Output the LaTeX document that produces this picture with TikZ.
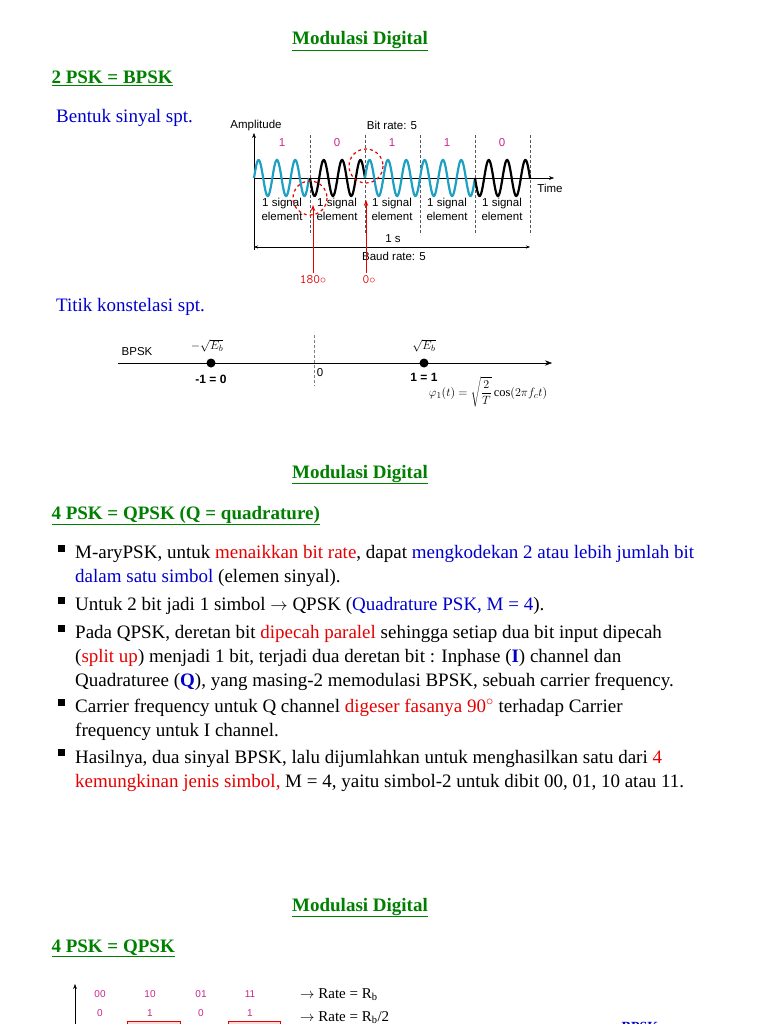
\documentclass[tikz,border=0pt]{standalone}
\usepackage{fontspec}
\setmainfont{Liberation Serif}
\newfontfamily\lsans{Liberation Sans}
\usetikzlibrary{arrows.meta}
\definecolor{tgreen}{RGB}{0,128,0}
\definecolor{tblue}{RGB}{0,0,204}
\definecolor{tred}{RGB}{230,0,0}
\definecolor{tcyan}{RGB}{30,160,195}
\definecolor{tpink}{RGB}{200,40,140}
\begin{document}
\begin{tikzpicture}[x=1pt,y=-1pt,
  head/.style={anchor=base,font=\fontsize{19}{21}\selectfont\bfseries,text=tgreen},
  sub/.style={anchor=base west,font=\fontsize{19}{21}\selectfont\bfseries,text=tgreen},
  body/.style={anchor=base west,font=\fontsize{19}{21}\selectfont,inner sep=0},
  small/.style={font=\lsans\fontsize{11.5}{13}\selectfont,inner sep=0}]
\useasboundingbox (0,0) rectangle (768,1024);
\fill[white] (0,0) rectangle (768,1024);
% headings
\node[head] (h1) at (360,45) {\underline{Modulasi Digital}};
\node[sub] (s1) at (48,84) {\underline{2 PSK = BPSK}};
\node[body,text=tblue] (b1) at (56,123) {Bentuk sinyal spt.};
\node[body,text=tblue] (b2) at (56,311) {Titik konstelasi spt.};
% signal figure
\draw[-{Stealth[length=5pt]}] (254,250) -- (254,133);
\draw[-{Stealth[length=5pt]}] (254,178) -- (554,178);
\foreach \xa in {310,365,420,475,530}{\draw[densely dashed,gray!70!black] (\xa,135) -- (\xa,235);}
\foreach \xa/\c/\s in {254/tcyan/1,310/black/-1,365/tcyan/1,420/tcyan/1,475/black/-1}{
  \draw[\c,line width=2.2pt] plot[domain=0:55,samples=90] ({\xa+\x},{178-\s*18*sin(\x/55*3*360)});}
\node[small] (amp) at (256,126) {Amplitude};
\node[small] (br) at (392,125) {Bit rate: 5};
\foreach \xa/\b [count=\i] in {282/1,337/0,392/1,447/1,502/0}{
  \node[small,text=tpink] (bit\i) at (\xa,143) {\b};
  \node[small,align=center] (el\i) at (\xa,209) {1 signal\\[1pt]element};}
\node[small] (tm) at (550,188) {Time};
\node[small] (os) at (393,239) {1 s};
\draw[{Stealth[length=4pt]}-{Stealth[length=4pt]}] (254,247) -- (530,247);
\node[small,fill=white,inner sep=1pt] (bd) at (394,256) {Baud rate: 5};
\draw[tred,dashed,line width=1.2pt] (310,198) circle (17);
\draw[tred,dashed,line width=1.2pt] (366,166) circle (17);
\coordinate (c1) at (313,205); \coordinate (c2) at (366,200);
\node[text=tred,font=\ttfamily\fontsize{13}{14}\selectfont,inner sep=1pt] (d180) at (313,280) {180$\circ$};
\node[text=tred,font=\ttfamily\fontsize{13}{14}\selectfont,inner sep=1pt] (d0) at (369,280) {0$\circ$};
\draw[tred,thick,-{Stealth[length=6pt]}] (d180.north) ++(0,-2) -- (c1);
\draw[tred,thick,-{Stealth[length=6pt]}] (d0.north -| c2) ++(0,-2) -- (c2);
% constellation
\draw[-{Stealth[length=7pt]}] (118,363) -- (552,363);
\draw[densely dashed,gray] (314,335) -- (314,386);
\fill (211,363) circle (4.5); \fill (424,363) circle (4.5);
\node[small] (bp) at (137,352) {BPSK};
\node[font=\fontsize{13}{15}\selectfont] (me) at (207,346) {$-\sqrt{E_b}$};
\node[font=\fontsize{13}{15}\selectfont] (pe) at (424,346) {$\sqrt{E_b}$};
\node[small,font=\lsans\bfseries\fontsize{12}{14}\selectfont] (m1) at (211,379) {-1 = 0};
\node[small,font=\lsans\bfseries\fontsize{12}{14}\selectfont] (p1) at (424,377) {1 = 1};
\node[small] (zr) at (320,373) {0};
\node[font=\fontsize{12.5}{14}\selectfont] (phi) at (488,392) {$\varphi_1(t)=\sqrt{\displaystyle\frac{2}{T}}\cos(2\pi f_c t)$};
% section 2
\node[head] (h2) at (360,478) {\underline{Modulasi Digital}};
\node[sub] (s2) at (48,519) {\underline{4 PSK = QPSK (Q = quadrature)}};
\foreach \yy in {557,609,637,711,761} {\fill (58,\yy-5) rectangle +(7,-7);}
\node[body] (l1) at (75,558) {M-aryPSK, untuk \textcolor{tred}{menaikkan bit rate}, dapat \textcolor{tblue}{mengkodekan 2 atau lebih jumlah bit}};
\node[body] (l2) at (75,582) {\textcolor{tblue}{dalam satu simbol} (elemen sinyal).};
\node[body] (l3) at (75,610) {Untuk 2 bit jadi 1 simbol $\rightarrow$ QPSK (\textcolor{tblue}{Quadrature PSK, M = 4}).};
\node[body] (l4) at (75,638) {Pada QPSK, deretan bit \textcolor{tred}{dipecah paralel} sehingga setiap dua bit input dipecah};
\node[body] (l5) at (75,662) {(\textcolor{tred}{split up}) menjadi 1 bit, terjadi dua deretan bit : Inphase (\textcolor{tblue}{\textbf{I}}) channel dan};
\node[body] (l6) at (75,686) {Quadraturee (\textcolor{tblue}{\textbf{Q}}), yang masing-2 memodulasi BPSK, sebuah carrier frequency.};
\node[body] (l7) at (75,712) {Carrier frequency untuk Q channel \textcolor{tred}{digeser fasanya 90$^\circ$} terhadap Carrier};
\node[body] (l8) at (75,736) {frequency untuk I channel.};
\node[body] (l9) at (75,763) {Hasilnya, dua sinyal BPSK, lalu dijumlahkan untuk menghasilkan satu dari \textcolor{tred}{4}};
\node[body] (l10) at (75,787) {\textcolor{tred}{kemungkinan jenis simbol,} M = 4, yaitu simbol-2 untuk dibit 00, 01, 10 atau 11.};
% section 3
\node[head] (h3) at (360,911) {\underline{Modulasi Digital}};
\node[sub] (s3) at (48,952) {\underline{4 PSK = QPSK}};
\draw[-{Stealth[length=5pt]}] (75,1030) -- (75,984);
\foreach \xa/\t/\u [count=\i] in {100/00/0,150/10/1,201/01/0,250/11/1}{
  \node[small,text=tpink,font=\lsans\fontsize{10}{11}\selectfont] (tb\i) at (\xa,994) {\t};
  \node[small,text=tpink,font=\lsans\fontsize{10}{11}\selectfont] (ub\i) at (\xa,1013) {\u};}
\node[body,font=\fontsize{15}{17}\selectfont] (r1) at (300,998) {$\rightarrow$ Rate = R$_\mathrm{b}$};
\node[body,font=\fontsize{15}{17}\selectfont] (r2) at (300,1021) {$\rightarrow$ Rate = R$_\mathrm{b}$/2};
\draw[tred,fill=tred!15] (127,1021) rectangle (180,1030);
\draw[tred,fill=tred!15] (228,1021) rectangle (280,1030);
\node[anchor=base,text=tblue,font=\fontsize{14}{16}\selectfont\bfseries] (bk) at (640,1031) {BPSK};
\end{tikzpicture}
\end{document}
